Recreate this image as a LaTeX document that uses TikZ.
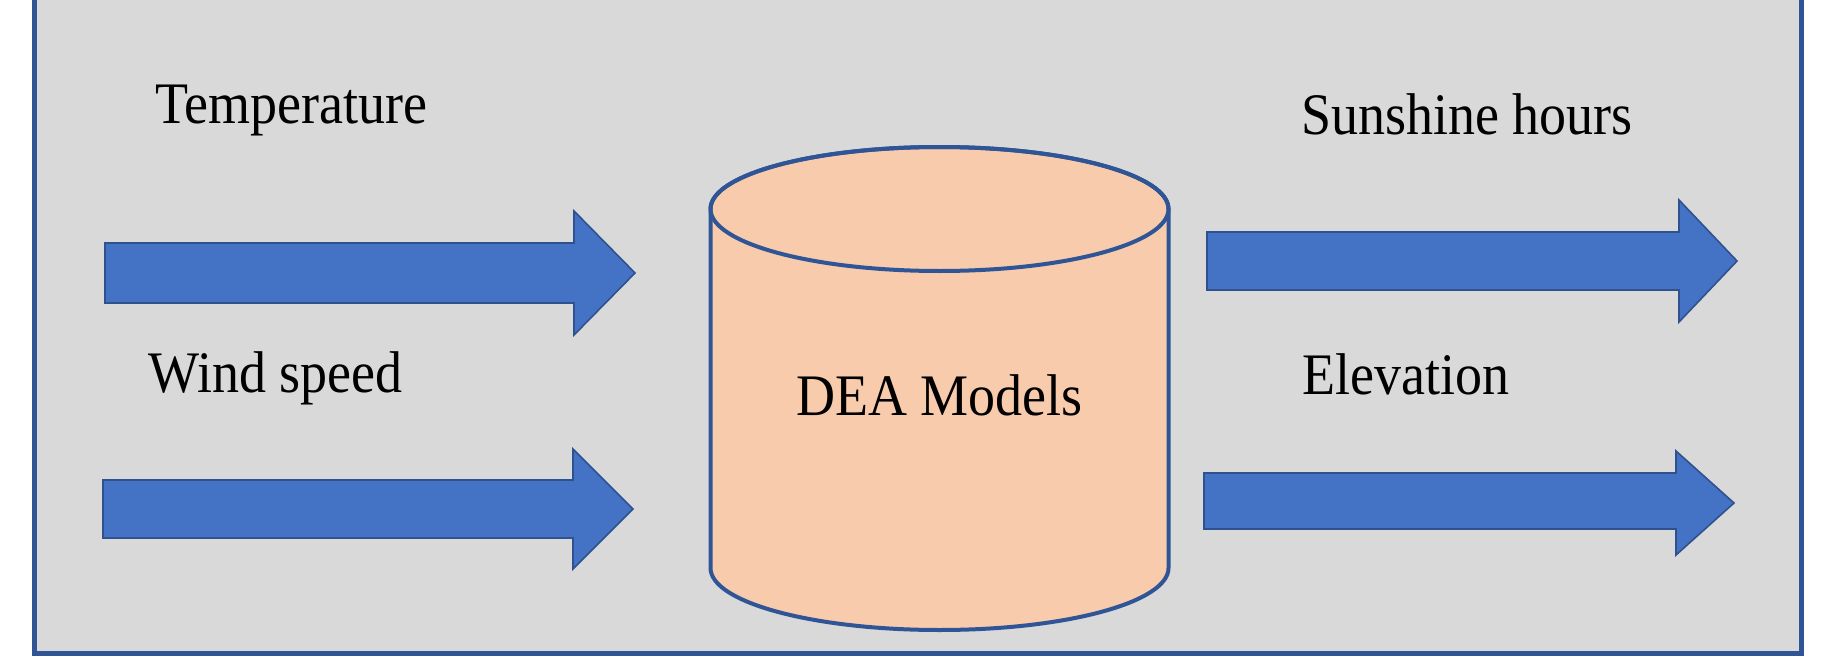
\documentclass[tikz,border=0pt]{standalone}
\usepackage{fontspec}
\usepackage{graphicx}
\setmainfont{Liberation Serif}
\definecolor{framebg}{HTML}{D9D9D9}
\definecolor{frameline}{HTML}{2F5597}
\definecolor{arrowfill}{HTML}{4472C4}
\definecolor{arrowline}{HTML}{2F528F}
\definecolor{cylfill}{HTML}{F8CBAD}
\definecolor{cylline}{HTML}{2F5597}
\tikzset{
  frame/.style={fill=framebg, draw=frameline, line width=5pt},
  fatarrow/.style={fill=arrowfill, draw=arrowline, line width=1.6pt, line join=miter},
  cylbody/.style={fill=cylfill, draw=cylline, line width=4pt},
  cyltop/.style={draw=cylline, line width=4pt},
  lbl/.style={font=\fontsize{54}{60}\selectfont, anchor=base west, inner sep=0pt, text=black},
}
\newcommand{\tall}[1]{\scalebox{1}[1.09]{#1}}
\begin{document}
\begin{tikzpicture}[x=1pt,y=-1pt]
\useasboundingbox (0,0) rectangle (1830,666);
\clip (0,0) rectangle (1830,666);
\fill[white] (0,0) rectangle (1830,666);
% frame
\draw[frame] (34.5,-20) rectangle (1801,653);
% input arrows
\draw[fatarrow] (105,243) -- (574,243) -- (574,211) -- (635,273) -- (574,335) -- (574,303) -- (105,303) -- cycle;
\draw[fatarrow] (103,480) -- (573,480) -- (573,449) -- (633,509) -- (573,569) -- (573,538) -- (103,538) -- cycle;
% output arrows
\draw[fatarrow] (1207,232) -- (1679,232) -- (1679,200) -- (1737,261) -- (1679,322) -- (1679,290) -- (1207,290) -- cycle;
\draw[fatarrow] (1204,473) -- (1676,473) -- (1676,451) -- (1734,503) -- (1676,555) -- (1676,529) -- (1204,529) -- cycle;
% cylinder
\draw[cylbody] (710.5,209) -- (710.5,568)
  arc[start angle=180, end angle=0, x radius=229, y radius=62]
  -- (1168.5,209)
  arc[start angle=0, end angle=-180, x radius=229, y radius=62] -- cycle;
\draw[cyltop] (939.5,209) ellipse[x radius=229, y radius=62];
% labels
\node[lbl] (temp) at (155,124) {\tall{Temperature}};
\node[lbl] (wind) at (148,392) {\tall{Wind speed}};
\node[lbl] (sun) at (1301,135) {\tall{Sunshine hours}};
\node[lbl] (elev) at (1302,394) {\tall{Elevation}};
\node[lbl, anchor=base] (dea) at (939.5,415) {\tall{DEA Models}};
\end{tikzpicture}
\end{document}
